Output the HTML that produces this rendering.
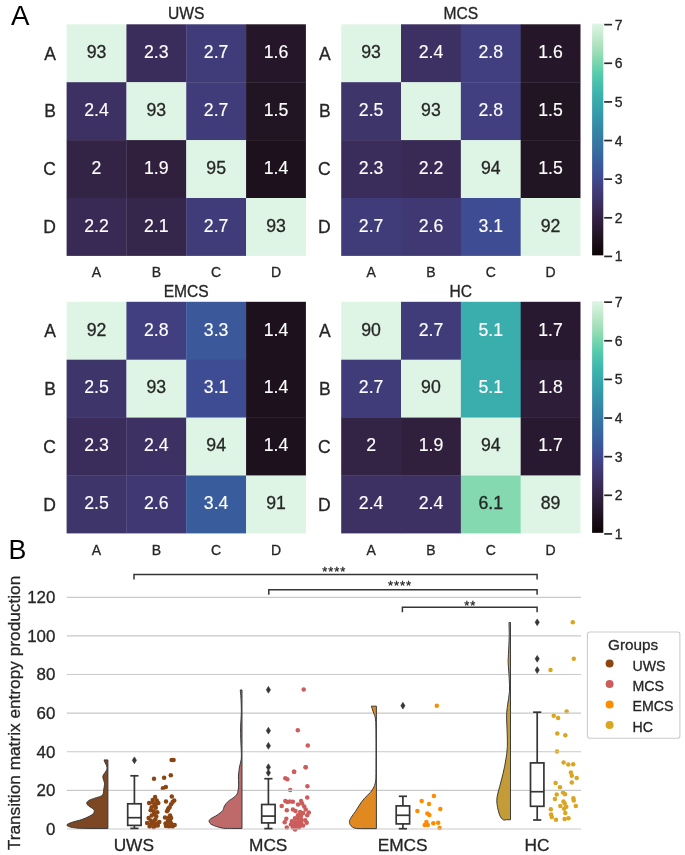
<!DOCTYPE html>
<html><head><meta charset="utf-8"><title>Figure</title>
<style>
html,body{margin:0;padding:0;background:#ffffff;}
svg{display:block;font-family:'Liberation Sans', sans-serif;}
</style></head>
<body>
<svg width="685" height="855" viewBox="0 0 685 855">
<rect x="0" y="0" width="685" height="855" fill="#ffffff"/>
<rect x="66.60" y="24.30" width="60.12" height="58.20" fill="#def5e5"/>
<rect x="126.42" y="24.30" width="60.12" height="58.20" fill="#3b2d5b"/>
<rect x="186.25" y="24.30" width="60.12" height="58.20" fill="#403c79"/>
<rect x="246.08" y="24.30" width="59.83" height="58.20" fill="#251729"/>
<rect x="66.60" y="82.20" width="60.12" height="58.20" fill="#3c3162"/>
<rect x="126.42" y="82.20" width="60.12" height="58.20" fill="#def5e5"/>
<rect x="186.25" y="82.20" width="60.12" height="58.20" fill="#403c79"/>
<rect x="246.08" y="82.20" width="59.83" height="58.20" fill="#211423"/>
<rect x="66.60" y="140.10" width="60.12" height="58.20" fill="#332345"/>
<rect x="126.42" y="140.10" width="60.12" height="58.20" fill="#30203e"/>
<rect x="186.25" y="140.10" width="60.12" height="58.20" fill="#def5e5"/>
<rect x="246.08" y="140.10" width="59.83" height="58.20" fill="#1d111d"/>
<rect x="66.60" y="198.00" width="60.12" height="57.90" fill="#382a54"/>
<rect x="126.42" y="198.00" width="60.12" height="57.90" fill="#35264c"/>
<rect x="186.25" y="198.00" width="60.12" height="57.90" fill="#403c79"/>
<rect x="246.08" y="198.00" width="59.83" height="57.90" fill="#def5e5"/>
<text x="96.51" y="58.09" font-size="17.7" fill="#262626" stroke="#262626" stroke-width="0.3" text-anchor="middle">93</text>
<text x="156.34" y="58.09" font-size="17.7" fill="#ffffff" stroke="#ffffff" stroke-width="0.15" text-anchor="middle">2.3</text>
<text x="216.16" y="58.09" font-size="17.7" fill="#ffffff" stroke="#ffffff" stroke-width="0.15" text-anchor="middle">2.7</text>
<text x="275.99" y="58.09" font-size="17.7" fill="#ffffff" stroke="#ffffff" stroke-width="0.15" text-anchor="middle">1.6</text>
<text x="96.51" y="115.99" font-size="17.7" fill="#ffffff" stroke="#ffffff" stroke-width="0.15" text-anchor="middle">2.4</text>
<text x="156.34" y="115.99" font-size="17.7" fill="#262626" stroke="#262626" stroke-width="0.3" text-anchor="middle">93</text>
<text x="216.16" y="115.99" font-size="17.7" fill="#ffffff" stroke="#ffffff" stroke-width="0.15" text-anchor="middle">2.7</text>
<text x="275.99" y="115.99" font-size="17.7" fill="#ffffff" stroke="#ffffff" stroke-width="0.15" text-anchor="middle">1.5</text>
<text x="96.51" y="173.89" font-size="17.7" fill="#ffffff" stroke="#ffffff" stroke-width="0.15" text-anchor="middle">2</text>
<text x="156.34" y="173.89" font-size="17.7" fill="#ffffff" stroke="#ffffff" stroke-width="0.15" text-anchor="middle">1.9</text>
<text x="216.16" y="173.89" font-size="17.7" fill="#262626" stroke="#262626" stroke-width="0.3" text-anchor="middle">95</text>
<text x="275.99" y="173.89" font-size="17.7" fill="#ffffff" stroke="#ffffff" stroke-width="0.15" text-anchor="middle">1.4</text>
<text x="96.51" y="231.79" font-size="17.7" fill="#ffffff" stroke="#ffffff" stroke-width="0.15" text-anchor="middle">2.2</text>
<text x="156.34" y="231.79" font-size="17.7" fill="#ffffff" stroke="#ffffff" stroke-width="0.15" text-anchor="middle">2.1</text>
<text x="216.16" y="231.79" font-size="17.7" fill="#ffffff" stroke="#ffffff" stroke-width="0.15" text-anchor="middle">2.7</text>
<text x="275.99" y="231.79" font-size="17.7" fill="#262626" stroke="#262626" stroke-width="0.3" text-anchor="middle">93</text>
<text x="186.25" y="19.20" font-size="15.6" fill="#262626" stroke="#262626" stroke-width="0.3" text-anchor="middle">UWS</text>
<text x="56.00" y="59.52" font-size="17.5" fill="#262626" stroke="#262626" stroke-width="0.3" text-anchor="end">A</text>
<text x="96.51" y="277.10" font-size="14" fill="#262626" stroke="#262626" stroke-width="0.3" text-anchor="middle">A</text>
<text x="56.00" y="117.41" font-size="17.5" fill="#262626" stroke="#262626" stroke-width="0.3" text-anchor="end">B</text>
<text x="156.34" y="277.10" font-size="14" fill="#262626" stroke="#262626" stroke-width="0.3" text-anchor="middle">B</text>
<text x="56.00" y="175.31" font-size="17.5" fill="#262626" stroke="#262626" stroke-width="0.3" text-anchor="end">C</text>
<text x="216.16" y="277.10" font-size="14" fill="#262626" stroke="#262626" stroke-width="0.3" text-anchor="middle">C</text>
<text x="56.00" y="233.22" font-size="17.5" fill="#262626" stroke="#262626" stroke-width="0.3" text-anchor="end">D</text>
<text x="275.99" y="277.10" font-size="14" fill="#262626" stroke="#262626" stroke-width="0.3" text-anchor="middle">D</text>
<rect x="341.20" y="24.30" width="60.12" height="58.20" fill="#def5e5"/>
<rect x="401.02" y="24.30" width="60.12" height="58.20" fill="#3c3162"/>
<rect x="460.85" y="24.30" width="60.12" height="58.20" fill="#413f80"/>
<rect x="520.67" y="24.30" width="59.83" height="58.20" fill="#251729"/>
<rect x="341.20" y="82.20" width="60.12" height="58.20" fill="#3e356b"/>
<rect x="401.02" y="82.20" width="60.12" height="58.20" fill="#def5e5"/>
<rect x="460.85" y="82.20" width="60.12" height="58.20" fill="#413f80"/>
<rect x="520.67" y="82.20" width="59.83" height="58.20" fill="#211423"/>
<rect x="341.20" y="140.10" width="60.12" height="58.20" fill="#3b2d5b"/>
<rect x="401.02" y="140.10" width="60.12" height="58.20" fill="#382a54"/>
<rect x="460.85" y="140.10" width="60.12" height="58.20" fill="#def5e5"/>
<rect x="520.67" y="140.10" width="59.83" height="58.20" fill="#211423"/>
<rect x="341.20" y="198.00" width="60.12" height="57.90" fill="#403c79"/>
<rect x="401.02" y="198.00" width="60.12" height="57.90" fill="#403872"/>
<rect x="460.85" y="198.00" width="60.12" height="57.90" fill="#3e4d93"/>
<rect x="520.67" y="198.00" width="59.83" height="57.90" fill="#def5e5"/>
<text x="371.11" y="58.09" font-size="17.7" fill="#262626" stroke="#262626" stroke-width="0.3" text-anchor="middle">93</text>
<text x="430.94" y="58.09" font-size="17.7" fill="#ffffff" stroke="#ffffff" stroke-width="0.15" text-anchor="middle">2.4</text>
<text x="490.76" y="58.09" font-size="17.7" fill="#ffffff" stroke="#ffffff" stroke-width="0.15" text-anchor="middle">2.8</text>
<text x="550.59" y="58.09" font-size="17.7" fill="#ffffff" stroke="#ffffff" stroke-width="0.15" text-anchor="middle">1.6</text>
<text x="371.11" y="115.99" font-size="17.7" fill="#ffffff" stroke="#ffffff" stroke-width="0.15" text-anchor="middle">2.5</text>
<text x="430.94" y="115.99" font-size="17.7" fill="#262626" stroke="#262626" stroke-width="0.3" text-anchor="middle">93</text>
<text x="490.76" y="115.99" font-size="17.7" fill="#ffffff" stroke="#ffffff" stroke-width="0.15" text-anchor="middle">2.8</text>
<text x="550.59" y="115.99" font-size="17.7" fill="#ffffff" stroke="#ffffff" stroke-width="0.15" text-anchor="middle">1.5</text>
<text x="371.11" y="173.89" font-size="17.7" fill="#ffffff" stroke="#ffffff" stroke-width="0.15" text-anchor="middle">2.3</text>
<text x="430.94" y="173.89" font-size="17.7" fill="#ffffff" stroke="#ffffff" stroke-width="0.15" text-anchor="middle">2.2</text>
<text x="490.76" y="173.89" font-size="17.7" fill="#262626" stroke="#262626" stroke-width="0.3" text-anchor="middle">94</text>
<text x="550.59" y="173.89" font-size="17.7" fill="#ffffff" stroke="#ffffff" stroke-width="0.15" text-anchor="middle">1.5</text>
<text x="371.11" y="231.79" font-size="17.7" fill="#ffffff" stroke="#ffffff" stroke-width="0.15" text-anchor="middle">2.7</text>
<text x="430.94" y="231.79" font-size="17.7" fill="#ffffff" stroke="#ffffff" stroke-width="0.15" text-anchor="middle">2.6</text>
<text x="490.76" y="231.79" font-size="17.7" fill="#ffffff" stroke="#ffffff" stroke-width="0.15" text-anchor="middle">3.1</text>
<text x="550.59" y="231.79" font-size="17.7" fill="#262626" stroke="#262626" stroke-width="0.3" text-anchor="middle">92</text>
<text x="460.85" y="19.20" font-size="15.6" fill="#262626" stroke="#262626" stroke-width="0.3" text-anchor="middle">MCS</text>
<text x="330.60" y="59.52" font-size="17.5" fill="#262626" stroke="#262626" stroke-width="0.3" text-anchor="end">A</text>
<text x="371.11" y="277.10" font-size="14" fill="#262626" stroke="#262626" stroke-width="0.3" text-anchor="middle">A</text>
<text x="330.60" y="117.41" font-size="17.5" fill="#262626" stroke="#262626" stroke-width="0.3" text-anchor="end">B</text>
<text x="430.94" y="277.10" font-size="14" fill="#262626" stroke="#262626" stroke-width="0.3" text-anchor="middle">B</text>
<text x="330.60" y="175.31" font-size="17.5" fill="#262626" stroke="#262626" stroke-width="0.3" text-anchor="end">C</text>
<text x="490.76" y="277.10" font-size="14" fill="#262626" stroke="#262626" stroke-width="0.3" text-anchor="middle">C</text>
<text x="330.60" y="233.22" font-size="17.5" fill="#262626" stroke="#262626" stroke-width="0.3" text-anchor="end">D</text>
<text x="550.59" y="277.10" font-size="14" fill="#262626" stroke="#262626" stroke-width="0.3" text-anchor="middle">D</text>
<rect x="66.60" y="301.80" width="60.12" height="58.20" fill="#def5e5"/>
<rect x="126.42" y="301.80" width="60.12" height="58.20" fill="#413f80"/>
<rect x="186.25" y="301.80" width="60.12" height="58.20" fill="#3b589a"/>
<rect x="246.08" y="301.80" width="59.83" height="58.20" fill="#1d111d"/>
<rect x="66.60" y="359.70" width="60.12" height="58.20" fill="#3e356b"/>
<rect x="126.42" y="359.70" width="60.12" height="58.20" fill="#def5e5"/>
<rect x="186.25" y="359.70" width="60.12" height="58.20" fill="#3e4d93"/>
<rect x="246.08" y="359.70" width="59.83" height="58.20" fill="#1d111d"/>
<rect x="66.60" y="417.60" width="60.12" height="58.20" fill="#3b2d5b"/>
<rect x="126.42" y="417.60" width="60.12" height="58.20" fill="#3c3162"/>
<rect x="186.25" y="417.60" width="60.12" height="58.20" fill="#def5e5"/>
<rect x="246.08" y="417.60" width="59.83" height="58.20" fill="#1d111d"/>
<rect x="66.60" y="475.50" width="60.12" height="57.90" fill="#3e356b"/>
<rect x="126.42" y="475.50" width="60.12" height="57.90" fill="#403872"/>
<rect x="186.25" y="475.50" width="60.12" height="57.90" fill="#395d9c"/>
<rect x="246.08" y="475.50" width="59.83" height="57.90" fill="#def5e5"/>
<text x="96.51" y="335.59" font-size="17.7" fill="#262626" stroke="#262626" stroke-width="0.3" text-anchor="middle">92</text>
<text x="156.34" y="335.59" font-size="17.7" fill="#ffffff" stroke="#ffffff" stroke-width="0.15" text-anchor="middle">2.8</text>
<text x="216.16" y="335.59" font-size="17.7" fill="#ffffff" stroke="#ffffff" stroke-width="0.15" text-anchor="middle">3.3</text>
<text x="275.99" y="335.59" font-size="17.7" fill="#ffffff" stroke="#ffffff" stroke-width="0.15" text-anchor="middle">1.4</text>
<text x="96.51" y="393.49" font-size="17.7" fill="#ffffff" stroke="#ffffff" stroke-width="0.15" text-anchor="middle">2.5</text>
<text x="156.34" y="393.49" font-size="17.7" fill="#262626" stroke="#262626" stroke-width="0.3" text-anchor="middle">93</text>
<text x="216.16" y="393.49" font-size="17.7" fill="#ffffff" stroke="#ffffff" stroke-width="0.15" text-anchor="middle">3.1</text>
<text x="275.99" y="393.49" font-size="17.7" fill="#ffffff" stroke="#ffffff" stroke-width="0.15" text-anchor="middle">1.4</text>
<text x="96.51" y="451.39" font-size="17.7" fill="#ffffff" stroke="#ffffff" stroke-width="0.15" text-anchor="middle">2.3</text>
<text x="156.34" y="451.39" font-size="17.7" fill="#ffffff" stroke="#ffffff" stroke-width="0.15" text-anchor="middle">2.4</text>
<text x="216.16" y="451.39" font-size="17.7" fill="#262626" stroke="#262626" stroke-width="0.3" text-anchor="middle">94</text>
<text x="275.99" y="451.39" font-size="17.7" fill="#ffffff" stroke="#ffffff" stroke-width="0.15" text-anchor="middle">1.4</text>
<text x="96.51" y="509.29" font-size="17.7" fill="#ffffff" stroke="#ffffff" stroke-width="0.15" text-anchor="middle">2.5</text>
<text x="156.34" y="509.29" font-size="17.7" fill="#ffffff" stroke="#ffffff" stroke-width="0.15" text-anchor="middle">2.6</text>
<text x="216.16" y="509.29" font-size="17.7" fill="#ffffff" stroke="#ffffff" stroke-width="0.15" text-anchor="middle">3.4</text>
<text x="275.99" y="509.29" font-size="17.7" fill="#262626" stroke="#262626" stroke-width="0.3" text-anchor="middle">91</text>
<text x="186.25" y="296.70" font-size="15.6" fill="#262626" stroke="#262626" stroke-width="0.3" text-anchor="middle">EMCS</text>
<text x="56.00" y="337.01" font-size="17.5" fill="#262626" stroke="#262626" stroke-width="0.3" text-anchor="end">A</text>
<text x="96.51" y="554.60" font-size="14" fill="#262626" stroke="#262626" stroke-width="0.3" text-anchor="middle">A</text>
<text x="56.00" y="394.91" font-size="17.5" fill="#262626" stroke="#262626" stroke-width="0.3" text-anchor="end">B</text>
<text x="156.34" y="554.60" font-size="14" fill="#262626" stroke="#262626" stroke-width="0.3" text-anchor="middle">B</text>
<text x="56.00" y="452.81" font-size="17.5" fill="#262626" stroke="#262626" stroke-width="0.3" text-anchor="end">C</text>
<text x="216.16" y="554.60" font-size="14" fill="#262626" stroke="#262626" stroke-width="0.3" text-anchor="middle">C</text>
<text x="56.00" y="510.72" font-size="17.5" fill="#262626" stroke="#262626" stroke-width="0.3" text-anchor="end">D</text>
<text x="275.99" y="554.60" font-size="14" fill="#262626" stroke="#262626" stroke-width="0.3" text-anchor="middle">D</text>
<rect x="341.20" y="301.80" width="60.12" height="58.20" fill="#def5e5"/>
<rect x="401.02" y="301.80" width="60.12" height="58.20" fill="#403c79"/>
<rect x="460.85" y="301.80" width="60.12" height="58.20" fill="#3aaead"/>
<rect x="520.67" y="301.80" width="59.83" height="58.20" fill="#291930"/>
<rect x="341.20" y="359.70" width="60.12" height="58.20" fill="#403c79"/>
<rect x="401.02" y="359.70" width="60.12" height="58.20" fill="#def5e5"/>
<rect x="460.85" y="359.70" width="60.12" height="58.20" fill="#3aaead"/>
<rect x="520.67" y="359.70" width="59.83" height="58.20" fill="#2d1d38"/>
<rect x="341.20" y="417.60" width="60.12" height="58.20" fill="#332345"/>
<rect x="401.02" y="417.60" width="60.12" height="58.20" fill="#30203e"/>
<rect x="460.85" y="417.60" width="60.12" height="58.20" fill="#def5e5"/>
<rect x="520.67" y="417.60" width="59.83" height="58.20" fill="#291930"/>
<rect x="341.20" y="475.50" width="60.12" height="57.90" fill="#3c3162"/>
<rect x="401.02" y="475.50" width="60.12" height="57.90" fill="#3c3162"/>
<rect x="460.85" y="475.50" width="60.12" height="57.90" fill="#85d9b1"/>
<rect x="520.67" y="475.50" width="59.83" height="57.90" fill="#def5e5"/>
<text x="371.11" y="335.59" font-size="17.7" fill="#262626" stroke="#262626" stroke-width="0.3" text-anchor="middle">90</text>
<text x="430.94" y="335.59" font-size="17.7" fill="#ffffff" stroke="#ffffff" stroke-width="0.15" text-anchor="middle">2.7</text>
<text x="490.76" y="335.59" font-size="17.7" fill="#ffffff" stroke="#ffffff" stroke-width="0.15" text-anchor="middle">5.1</text>
<text x="550.59" y="335.59" font-size="17.7" fill="#ffffff" stroke="#ffffff" stroke-width="0.15" text-anchor="middle">1.7</text>
<text x="371.11" y="393.49" font-size="17.7" fill="#ffffff" stroke="#ffffff" stroke-width="0.15" text-anchor="middle">2.7</text>
<text x="430.94" y="393.49" font-size="17.7" fill="#262626" stroke="#262626" stroke-width="0.3" text-anchor="middle">90</text>
<text x="490.76" y="393.49" font-size="17.7" fill="#ffffff" stroke="#ffffff" stroke-width="0.15" text-anchor="middle">5.1</text>
<text x="550.59" y="393.49" font-size="17.7" fill="#ffffff" stroke="#ffffff" stroke-width="0.15" text-anchor="middle">1.8</text>
<text x="371.11" y="451.39" font-size="17.7" fill="#ffffff" stroke="#ffffff" stroke-width="0.15" text-anchor="middle">2</text>
<text x="430.94" y="451.39" font-size="17.7" fill="#ffffff" stroke="#ffffff" stroke-width="0.15" text-anchor="middle">1.9</text>
<text x="490.76" y="451.39" font-size="17.7" fill="#262626" stroke="#262626" stroke-width="0.3" text-anchor="middle">94</text>
<text x="550.59" y="451.39" font-size="17.7" fill="#ffffff" stroke="#ffffff" stroke-width="0.15" text-anchor="middle">1.7</text>
<text x="371.11" y="509.29" font-size="17.7" fill="#ffffff" stroke="#ffffff" stroke-width="0.15" text-anchor="middle">2.4</text>
<text x="430.94" y="509.29" font-size="17.7" fill="#ffffff" stroke="#ffffff" stroke-width="0.15" text-anchor="middle">2.4</text>
<text x="490.76" y="509.29" font-size="17.7" fill="#262626" stroke="#262626" stroke-width="0.3" text-anchor="middle">6.1</text>
<text x="550.59" y="509.29" font-size="17.7" fill="#262626" stroke="#262626" stroke-width="0.3" text-anchor="middle">89</text>
<text x="460.85" y="296.70" font-size="15.6" fill="#262626" stroke="#262626" stroke-width="0.3" text-anchor="middle">HC</text>
<text x="330.60" y="337.01" font-size="17.5" fill="#262626" stroke="#262626" stroke-width="0.3" text-anchor="end">A</text>
<text x="371.11" y="554.60" font-size="14" fill="#262626" stroke="#262626" stroke-width="0.3" text-anchor="middle">A</text>
<text x="330.60" y="394.91" font-size="17.5" fill="#262626" stroke="#262626" stroke-width="0.3" text-anchor="end">B</text>
<text x="430.94" y="554.60" font-size="14" fill="#262626" stroke="#262626" stroke-width="0.3" text-anchor="middle">B</text>
<text x="330.60" y="452.81" font-size="17.5" fill="#262626" stroke="#262626" stroke-width="0.3" text-anchor="end">C</text>
<text x="490.76" y="554.60" font-size="14" fill="#262626" stroke="#262626" stroke-width="0.3" text-anchor="middle">C</text>
<text x="330.60" y="510.72" font-size="17.5" fill="#262626" stroke="#262626" stroke-width="0.3" text-anchor="end">D</text>
<text x="550.59" y="554.60" font-size="14" fill="#262626" stroke="#262626" stroke-width="0.3" text-anchor="middle">D</text>
<defs><linearGradient id="cb1" x1="0" y1="0" x2="0" y2="1"><stop offset="0.0000" stop-color="#def5e5"/><stop offset="0.0417" stop-color="#caedd4"/><stop offset="0.0833" stop-color="#b2e4c2"/><stop offset="0.1250" stop-color="#99ddb6"/><stop offset="0.1667" stop-color="#79d6ae"/><stop offset="0.2083" stop-color="#5bcdad"/><stop offset="0.2500" stop-color="#4bc2ad"/><stop offset="0.2917" stop-color="#3fb6ad"/><stop offset="0.3333" stop-color="#38aaac"/><stop offset="0.3750" stop-color="#359fab"/><stop offset="0.4167" stop-color="#3492a8"/><stop offset="0.4583" stop-color="#3486a5"/><stop offset="0.5000" stop-color="#357ba3"/><stop offset="0.5417" stop-color="#366fa0"/><stop offset="0.5833" stop-color="#38629d"/><stop offset="0.6250" stop-color="#3b5698"/><stop offset="0.6667" stop-color="#40498e"/><stop offset="0.7083" stop-color="#413e7d"/><stop offset="0.7500" stop-color="#3e356b"/><stop offset="0.7917" stop-color="#3a2c58"/><stop offset="0.8333" stop-color="#332345"/><stop offset="0.8750" stop-color="#2b1c35"/><stop offset="0.9167" stop-color="#211423"/><stop offset="0.9583" stop-color="#160b13"/><stop offset="1.0000" stop-color="#0b0405"/></linearGradient></defs>
<rect x="592.10" y="23.65" width="11.2" height="231.70" fill="url(#cb1)"/>
<line x1="604.20" y1="256.43" x2="612.10" y2="256.43" stroke="#262626" stroke-width="1.7"/>
<text x="614.80" y="261.44" font-size="14" fill="#262626" stroke="#262626" stroke-width="0.3">1</text>
<line x1="604.20" y1="217.80" x2="612.10" y2="217.80" stroke="#262626" stroke-width="1.7"/>
<text x="614.80" y="222.81" font-size="14" fill="#262626" stroke="#262626" stroke-width="0.3">2</text>
<line x1="604.20" y1="179.17" x2="612.10" y2="179.17" stroke="#262626" stroke-width="1.7"/>
<text x="614.80" y="184.18" font-size="14" fill="#262626" stroke="#262626" stroke-width="0.3">3</text>
<line x1="604.20" y1="140.54" x2="612.10" y2="140.54" stroke="#262626" stroke-width="1.7"/>
<text x="614.80" y="145.55" font-size="14" fill="#262626" stroke="#262626" stroke-width="0.3">4</text>
<line x1="604.20" y1="101.91" x2="612.10" y2="101.91" stroke="#262626" stroke-width="1.7"/>
<text x="614.80" y="106.92" font-size="14" fill="#262626" stroke="#262626" stroke-width="0.3">5</text>
<line x1="604.20" y1="63.28" x2="612.10" y2="63.28" stroke="#262626" stroke-width="1.7"/>
<text x="614.80" y="68.29" font-size="14" fill="#262626" stroke="#262626" stroke-width="0.3">6</text>
<line x1="604.20" y1="24.65" x2="612.10" y2="24.65" stroke="#262626" stroke-width="1.7"/>
<text x="614.80" y="29.66" font-size="14" fill="#262626" stroke="#262626" stroke-width="0.3">7</text>
<defs><linearGradient id="cb2" x1="0" y1="0" x2="0" y2="1"><stop offset="0.0000" stop-color="#def5e5"/><stop offset="0.0417" stop-color="#caedd4"/><stop offset="0.0833" stop-color="#b2e4c2"/><stop offset="0.1250" stop-color="#99ddb6"/><stop offset="0.1667" stop-color="#79d6ae"/><stop offset="0.2083" stop-color="#5bcdad"/><stop offset="0.2500" stop-color="#4bc2ad"/><stop offset="0.2917" stop-color="#3fb6ad"/><stop offset="0.3333" stop-color="#38aaac"/><stop offset="0.3750" stop-color="#359fab"/><stop offset="0.4167" stop-color="#3492a8"/><stop offset="0.4583" stop-color="#3486a5"/><stop offset="0.5000" stop-color="#357ba3"/><stop offset="0.5417" stop-color="#366fa0"/><stop offset="0.5833" stop-color="#38629d"/><stop offset="0.6250" stop-color="#3b5698"/><stop offset="0.6667" stop-color="#40498e"/><stop offset="0.7083" stop-color="#413e7d"/><stop offset="0.7500" stop-color="#3e356b"/><stop offset="0.7917" stop-color="#3a2c58"/><stop offset="0.8333" stop-color="#332345"/><stop offset="0.8750" stop-color="#2b1c35"/><stop offset="0.9167" stop-color="#211423"/><stop offset="0.9583" stop-color="#160b13"/><stop offset="1.0000" stop-color="#0b0405"/></linearGradient></defs>
<rect x="592.10" y="301.15" width="11.2" height="231.70" fill="url(#cb2)"/>
<line x1="604.20" y1="533.93" x2="612.10" y2="533.93" stroke="#262626" stroke-width="1.7"/>
<text x="614.80" y="538.94" font-size="14" fill="#262626" stroke="#262626" stroke-width="0.3">1</text>
<line x1="604.20" y1="495.30" x2="612.10" y2="495.30" stroke="#262626" stroke-width="1.7"/>
<text x="614.80" y="500.31" font-size="14" fill="#262626" stroke="#262626" stroke-width="0.3">2</text>
<line x1="604.20" y1="456.67" x2="612.10" y2="456.67" stroke="#262626" stroke-width="1.7"/>
<text x="614.80" y="461.68" font-size="14" fill="#262626" stroke="#262626" stroke-width="0.3">3</text>
<line x1="604.20" y1="418.04" x2="612.10" y2="418.04" stroke="#262626" stroke-width="1.7"/>
<text x="614.80" y="423.05" font-size="14" fill="#262626" stroke="#262626" stroke-width="0.3">4</text>
<line x1="604.20" y1="379.41" x2="612.10" y2="379.41" stroke="#262626" stroke-width="1.7"/>
<text x="614.80" y="384.42" font-size="14" fill="#262626" stroke="#262626" stroke-width="0.3">5</text>
<line x1="604.20" y1="340.78" x2="612.10" y2="340.78" stroke="#262626" stroke-width="1.7"/>
<text x="614.80" y="345.79" font-size="14" fill="#262626" stroke="#262626" stroke-width="0.3">6</text>
<line x1="604.20" y1="302.15" x2="612.10" y2="302.15" stroke="#262626" stroke-width="1.7"/>
<text x="614.80" y="307.16" font-size="14" fill="#262626" stroke="#262626" stroke-width="0.3">7</text>
<text x="10.9" y="24.7" font-size="27.7" fill="#000">A</text>
<text x="8.4" y="559.4" font-size="26.8" fill="#000">B</text>
<circle cx="171.6" cy="759.9" r="2.25" fill="#8b4513"/>
<circle cx="173.6" cy="759.9" r="2.25" fill="#8b4513"/>
<circle cx="170.8" cy="775.3" r="2.25" fill="#8b4513"/>
<circle cx="154.0" cy="778.8" r="2.25" fill="#8b4513"/>
<circle cx="164.1" cy="777.8" r="2.25" fill="#8b4513"/>
<circle cx="162.9" cy="788.3" r="2.25" fill="#8b4513"/>
<circle cx="165.8" cy="787.0" r="2.25" fill="#8b4513"/>
<circle cx="155.1" cy="797.0" r="2.25" fill="#8b4513"/>
<circle cx="171.8" cy="796.5" r="2.25" fill="#8b4513"/>
<circle cx="152.7" cy="800.1" r="2.25" fill="#8b4513"/>
<circle cx="156.8" cy="800.6" r="2.25" fill="#8b4513"/>
<circle cx="149.1" cy="803.1" r="2.25" fill="#8b4513"/>
<circle cx="158.3" cy="803.1" r="2.25" fill="#8b4513"/>
<circle cx="154.7" cy="805.2" r="2.25" fill="#8b4513"/>
<circle cx="155.8" cy="807.7" r="2.25" fill="#8b4513"/>
<circle cx="150.7" cy="810.3" r="2.25" fill="#8b4513"/>
<circle cx="157.3" cy="812.3" r="2.25" fill="#8b4513"/>
<circle cx="154.2" cy="813.9" r="2.25" fill="#8b4513"/>
<circle cx="151.7" cy="815.4" r="2.25" fill="#8b4513"/>
<circle cx="148.6" cy="818.0" r="2.25" fill="#8b4513"/>
<circle cx="155.3" cy="819.5" r="2.25" fill="#8b4513"/>
<circle cx="153.7" cy="821.5" r="2.25" fill="#8b4513"/>
<circle cx="147.1" cy="823.1" r="2.25" fill="#8b4513"/>
<circle cx="159.3" cy="822.0" r="2.25" fill="#8b4513"/>
<circle cx="150.7" cy="824.6" r="2.25" fill="#8b4513"/>
<circle cx="155.8" cy="825.1" r="2.25" fill="#8b4513"/>
<circle cx="149.6" cy="826.6" r="2.25" fill="#8b4513"/>
<circle cx="153.7" cy="827.2" r="2.25" fill="#8b4513"/>
<circle cx="157.8" cy="825.6" r="2.25" fill="#8b4513"/>
<circle cx="166.0" cy="801.6" r="2.25" fill="#8b4513"/>
<circle cx="174.2" cy="800.6" r="2.25" fill="#8b4513"/>
<circle cx="171.1" cy="804.2" r="2.25" fill="#8b4513"/>
<circle cx="169.6" cy="807.2" r="2.25" fill="#8b4513"/>
<circle cx="168.0" cy="809.8" r="2.25" fill="#8b4513"/>
<circle cx="167.0" cy="811.3" r="2.25" fill="#8b4513"/>
<circle cx="170.1" cy="815.4" r="2.25" fill="#8b4513"/>
<circle cx="165.0" cy="817.4" r="2.25" fill="#8b4513"/>
<circle cx="171.1" cy="818.0" r="2.25" fill="#8b4513"/>
<circle cx="168.0" cy="820.5" r="2.25" fill="#8b4513"/>
<circle cx="170.1" cy="821.5" r="2.25" fill="#8b4513"/>
<circle cx="165.5" cy="823.6" r="2.25" fill="#8b4513"/>
<circle cx="171.1" cy="823.6" r="2.25" fill="#8b4513"/>
<circle cx="174.7" cy="825.1" r="2.25" fill="#8b4513"/>
<circle cx="166.0" cy="826.1" r="2.25" fill="#8b4513"/>
<circle cx="169.0" cy="826.6" r="2.25" fill="#8b4513"/>
<circle cx="172.6" cy="826.6" r="2.25" fill="#8b4513"/>
<circle cx="152.7" cy="802.6" r="2.25" fill="#8b4513"/>
<circle cx="155.8" cy="804.2" r="2.25" fill="#8b4513"/>
<circle cx="151.7" cy="807.2" r="2.25" fill="#8b4513"/>
<circle cx="153.7" cy="811.3" r="2.25" fill="#8b4513"/>
<circle cx="156.3" cy="816.4" r="2.25" fill="#8b4513"/>
<circle cx="150.7" cy="820.5" r="2.25" fill="#8b4513"/>
<circle cx="152.2" cy="823.1" r="2.25" fill="#8b4513"/>
<circle cx="157.3" cy="823.6" r="2.25" fill="#8b4513"/>
<circle cx="154.7" cy="826.1" r="2.25" fill="#8b4513"/>
<circle cx="172.6" cy="802.1" r="2.25" fill="#8b4513"/>
<circle cx="168.5" cy="808.2" r="2.25" fill="#8b4513"/>
<circle cx="169.0" cy="817.4" r="2.25" fill="#8b4513"/>
<circle cx="167.5" cy="823.1" r="2.25" fill="#8b4513"/>
<circle cx="173.1" cy="825.1" r="2.25" fill="#8b4513"/>
<circle cx="305.7" cy="767.2" r="2.25" fill="#cd5c5c"/>
<circle cx="294.1" cy="771.8" r="2.25" fill="#cd5c5c"/>
<circle cx="285.3" cy="778.2" r="2.25" fill="#cd5c5c"/>
<circle cx="287.3" cy="779.2" r="2.25" fill="#cd5c5c"/>
<circle cx="307.4" cy="786.2" r="2.25" fill="#cd5c5c"/>
<circle cx="290.2" cy="790.1" r="2.25" fill="#cd5c5c"/>
<circle cx="307.2" cy="797.4" r="2.25" fill="#cd5c5c"/>
<circle cx="285.3" cy="800.9" r="2.25" fill="#cd5c5c"/>
<circle cx="287.3" cy="801.9" r="2.25" fill="#cd5c5c"/>
<circle cx="289.9" cy="801.4" r="2.25" fill="#cd5c5c"/>
<circle cx="292.9" cy="801.7" r="2.25" fill="#cd5c5c"/>
<circle cx="301.1" cy="800.9" r="2.25" fill="#cd5c5c"/>
<circle cx="281.7" cy="806.0" r="2.25" fill="#cd5c5c"/>
<circle cx="298.0" cy="804.5" r="2.25" fill="#cd5c5c"/>
<circle cx="302.1" cy="803.4" r="2.25" fill="#cd5c5c"/>
<circle cx="304.2" cy="806.5" r="2.25" fill="#cd5c5c"/>
<circle cx="286.8" cy="810.3" r="2.25" fill="#cd5c5c"/>
<circle cx="292.9" cy="809.6" r="2.25" fill="#cd5c5c"/>
<circle cx="295.5" cy="811.1" r="2.25" fill="#cd5c5c"/>
<circle cx="305.7" cy="809.6" r="2.25" fill="#cd5c5c"/>
<circle cx="308.8" cy="812.6" r="2.25" fill="#cd5c5c"/>
<circle cx="300.1" cy="812.1" r="2.25" fill="#cd5c5c"/>
<circle cx="303.1" cy="813.1" r="2.25" fill="#cd5c5c"/>
<circle cx="307.2" cy="815.2" r="2.25" fill="#cd5c5c"/>
<circle cx="298.0" cy="815.2" r="2.25" fill="#cd5c5c"/>
<circle cx="301.1" cy="815.7" r="2.25" fill="#cd5c5c"/>
<circle cx="286.3" cy="818.8" r="2.25" fill="#cd5c5c"/>
<circle cx="284.7" cy="822.3" r="2.25" fill="#cd5c5c"/>
<circle cx="295.0" cy="818.2" r="2.25" fill="#cd5c5c"/>
<circle cx="298.0" cy="818.8" r="2.25" fill="#cd5c5c"/>
<circle cx="301.1" cy="819.3" r="2.25" fill="#cd5c5c"/>
<circle cx="305.2" cy="820.3" r="2.25" fill="#cd5c5c"/>
<circle cx="306.7" cy="822.8" r="2.25" fill="#cd5c5c"/>
<circle cx="291.9" cy="821.3" r="2.25" fill="#cd5c5c"/>
<circle cx="295.0" cy="822.3" r="2.25" fill="#cd5c5c"/>
<circle cx="298.0" cy="822.3" r="2.25" fill="#cd5c5c"/>
<circle cx="301.1" cy="822.8" r="2.25" fill="#cd5c5c"/>
<circle cx="290.9" cy="824.4" r="2.25" fill="#cd5c5c"/>
<circle cx="293.9" cy="825.4" r="2.25" fill="#cd5c5c"/>
<circle cx="297.0" cy="825.4" r="2.25" fill="#cd5c5c"/>
<circle cx="300.1" cy="825.4" r="2.25" fill="#cd5c5c"/>
<circle cx="303.1" cy="825.4" r="2.25" fill="#cd5c5c"/>
<circle cx="286.8" cy="827.4" r="2.25" fill="#cd5c5c"/>
<circle cx="292.9" cy="827.4" r="2.25" fill="#cd5c5c"/>
<circle cx="296.0" cy="828.0" r="2.25" fill="#cd5c5c"/>
<circle cx="299.0" cy="827.4" r="2.25" fill="#cd5c5c"/>
<circle cx="295.0" cy="829.5" r="2.25" fill="#cd5c5c"/>
<circle cx="303.7" cy="689.6" r="2.25" fill="#cd5c5c"/>
<circle cx="297.8" cy="730.3" r="2.25" fill="#cd5c5c"/>
<circle cx="307.8" cy="745.4" r="2.25" fill="#cd5c5c"/>
<circle cx="305.6" cy="767.3" r="2.25" fill="#cd5c5c"/>
<circle cx="294.1" cy="771.8" r="2.25" fill="#cd5c5c"/>
<circle cx="436.8" cy="705.7" r="2.25" fill="#ff8c00"/>
<circle cx="433.9" cy="795.9" r="2.25" fill="#ff8c00"/>
<circle cx="421.7" cy="801.0" r="2.25" fill="#ff8c00"/>
<circle cx="429.0" cy="804.0" r="2.25" fill="#ff8c00"/>
<circle cx="440.3" cy="808.9" r="2.25" fill="#ff8c00"/>
<circle cx="417.4" cy="811.0" r="2.25" fill="#ff8c00"/>
<circle cx="427.4" cy="813.6" r="2.25" fill="#ff8c00"/>
<circle cx="429.4" cy="815.1" r="2.25" fill="#ff8c00"/>
<circle cx="426.4" cy="822.0" r="2.25" fill="#ff8c00"/>
<circle cx="424.7" cy="825.1" r="2.25" fill="#ff8c00"/>
<circle cx="427.8" cy="824.9" r="2.25" fill="#ff8c00"/>
<circle cx="433.3" cy="823.3" r="2.25" fill="#ff8c00"/>
<circle cx="438.2" cy="822.8" r="2.25" fill="#ff8c00"/>
<circle cx="439.6" cy="828.0" r="2.25" fill="#ff8c00"/>
<circle cx="566.6" cy="711.4" r="2.25" fill="#daa520"/>
<circle cx="553.7" cy="715.8" r="2.25" fill="#daa520"/>
<circle cx="558.1" cy="717.9" r="2.25" fill="#daa520"/>
<circle cx="557.3" cy="733.5" r="2.25" fill="#daa520"/>
<circle cx="565.3" cy="735.2" r="2.25" fill="#daa520"/>
<circle cx="557.0" cy="751.4" r="2.25" fill="#daa520"/>
<circle cx="563.6" cy="762.4" r="2.25" fill="#daa520"/>
<circle cx="568.3" cy="764.5" r="2.25" fill="#daa520"/>
<circle cx="573.2" cy="764.3" r="2.25" fill="#daa520"/>
<circle cx="570.9" cy="772.4" r="2.25" fill="#daa520"/>
<circle cx="571.8" cy="775.8" r="2.25" fill="#daa520"/>
<circle cx="576.7" cy="778.1" r="2.25" fill="#daa520"/>
<circle cx="571.8" cy="782.5" r="2.25" fill="#daa520"/>
<circle cx="555.6" cy="783.0" r="2.25" fill="#daa520"/>
<circle cx="560.0" cy="787.2" r="2.25" fill="#daa520"/>
<circle cx="563.0" cy="792.4" r="2.25" fill="#daa520"/>
<circle cx="565.0" cy="794.3" r="2.25" fill="#daa520"/>
<circle cx="556.7" cy="794.5" r="2.25" fill="#daa520"/>
<circle cx="554.9" cy="798.9" r="2.25" fill="#daa520"/>
<circle cx="573.4" cy="798.3" r="2.25" fill="#daa520"/>
<circle cx="573.7" cy="800.5" r="2.25" fill="#daa520"/>
<circle cx="563.5" cy="801.4" r="2.25" fill="#daa520"/>
<circle cx="564.7" cy="803.5" r="2.25" fill="#daa520"/>
<circle cx="560.3" cy="805.9" r="2.25" fill="#daa520"/>
<circle cx="566.3" cy="806.7" r="2.25" fill="#daa520"/>
<circle cx="575.8" cy="805.9" r="2.25" fill="#daa520"/>
<circle cx="564.1" cy="808.7" r="2.25" fill="#daa520"/>
<circle cx="550.8" cy="809.3" r="2.25" fill="#daa520"/>
<circle cx="565.3" cy="813.1" r="2.25" fill="#daa520"/>
<circle cx="551.1" cy="814.6" r="2.25" fill="#daa520"/>
<circle cx="551.8" cy="816.9" r="2.25" fill="#daa520"/>
<circle cx="556.0" cy="819.8" r="2.25" fill="#daa520"/>
<circle cx="564.6" cy="819.0" r="2.25" fill="#daa520"/>
<circle cx="568.5" cy="818.3" r="2.25" fill="#daa520"/>
<circle cx="572.8" cy="622.2" r="2.25" fill="#daa520"/>
<circle cx="573.8" cy="658.8" r="2.25" fill="#daa520"/>
<circle cx="550.5" cy="670.1" r="2.25" fill="#daa520"/>
<line x1="66.8" y1="829.00" x2="581.1" y2="829.00" stroke="#c9c9c9" stroke-width="1.2"/>
<text x="55.4" y="834.75" font-size="16.9" fill="#262626" stroke="#262626" stroke-width="0.3" text-anchor="end">0</text>
<line x1="66.8" y1="790.38" x2="581.1" y2="790.38" stroke="#c9c9c9" stroke-width="1.2"/>
<text x="55.4" y="796.13" font-size="16.9" fill="#262626" stroke="#262626" stroke-width="0.3" text-anchor="end">20</text>
<line x1="66.8" y1="751.76" x2="581.1" y2="751.76" stroke="#c9c9c9" stroke-width="1.2"/>
<text x="55.4" y="757.51" font-size="16.9" fill="#262626" stroke="#262626" stroke-width="0.3" text-anchor="end">40</text>
<line x1="66.8" y1="713.14" x2="581.1" y2="713.14" stroke="#c9c9c9" stroke-width="1.2"/>
<text x="55.4" y="718.89" font-size="16.9" fill="#262626" stroke="#262626" stroke-width="0.3" text-anchor="end">60</text>
<line x1="66.8" y1="674.52" x2="581.1" y2="674.52" stroke="#c9c9c9" stroke-width="1.2"/>
<text x="55.4" y="680.27" font-size="16.9" fill="#262626" stroke="#262626" stroke-width="0.3" text-anchor="end">80</text>
<line x1="66.8" y1="635.90" x2="581.1" y2="635.90" stroke="#c9c9c9" stroke-width="1.2"/>
<text x="55.4" y="641.65" font-size="16.9" fill="#262626" stroke="#262626" stroke-width="0.3" text-anchor="end">100</text>
<line x1="66.8" y1="597.28" x2="581.1" y2="597.28" stroke="#c9c9c9" stroke-width="1.2"/>
<text x="55.4" y="603.03" font-size="16.9" fill="#262626" stroke="#262626" stroke-width="0.3" text-anchor="end">120</text>
<text transform="translate(19.6,713.0) rotate(-90)" font-size="17.25" fill="#262626" stroke="#262626" stroke-width="0.3" text-anchor="middle">Transition matrix entropy production</text>
<path d="M104.01,759.93 C104.20,760.43 104.75,761.92 105.20,762.91 C105.64,763.91 106.41,764.82 106.69,765.89 C106.97,766.97 107.13,768.29 106.89,769.37 C106.64,770.45 105.81,771.36 105.20,772.35 C104.58,773.34 103.59,774.42 103.21,775.33 C102.83,776.24 102.75,776.74 102.91,777.81 C103.08,778.89 103.94,780.63 104.20,781.79 C104.47,782.95 104.58,783.44 104.50,784.77 C104.42,786.09 103.92,788.24 103.71,789.73 C103.49,791.22 103.71,792.63 103.21,793.71 C102.71,794.78 102.13,795.45 100.73,796.19 C99.32,796.94 96.67,797.51 94.77,798.18 C92.86,798.84 90.60,799.50 89.30,800.16 C88.01,800.83 87.43,801.57 87.02,802.15 C86.61,802.73 86.52,802.98 86.82,803.64 C87.12,804.30 87.81,805.30 88.81,806.12 C89.80,806.95 91.87,807.86 92.78,808.61 C93.69,809.35 94.19,809.77 94.27,810.59 C94.35,811.42 94.19,812.58 93.28,813.57 C92.37,814.57 90.71,815.56 88.81,816.55 C86.90,817.55 84.50,818.62 81.85,819.53 C79.20,820.44 75.23,821.27 72.91,822.02 C70.60,822.76 68.94,823.51 67.95,824.00 C66.95,824.50 66.87,824.58 66.95,825.00 C67.04,825.41 67.28,826.04 68.44,826.49 C69.60,826.93 72.00,827.38 73.91,827.68 C75.81,827.98 77.22,828.14 79.87,828.28 C82.52,828.41 88.14,828.44 89.80,828.47 L107.90,828.47 L107.90,759.93 Z" fill="#7c4722" stroke="#353535" stroke-width="0.95" stroke-linejoin="round"/>
<path d="M240.24,689.97 C240.36,691.33 240.78,694.35 240.96,698.13 C241.15,701.90 241.39,707.79 241.33,712.63 C241.27,717.46 240.69,722.60 240.60,727.13 C240.51,731.66 240.66,735.59 240.78,739.82 C240.90,744.04 241.27,749.18 241.33,752.50 C241.39,755.83 241.45,757.34 241.15,759.75 C240.84,762.17 239.97,764.28 239.51,767.00 C239.06,769.72 238.58,773.05 238.43,776.07 C238.28,779.09 238.73,782.41 238.61,785.13 C238.49,787.85 238.40,790.42 237.70,792.38 C237.01,794.34 236.04,795.40 234.44,796.91 C232.84,798.42 229.76,799.93 228.09,801.44 C226.43,802.95 225.38,804.46 224.47,805.97 C223.56,807.48 223.87,809.00 222.66,810.51 C221.45,812.02 219.18,813.68 217.22,815.04 C215.26,816.40 212.23,817.67 210.88,818.66 C209.52,819.66 209.06,820.11 209.06,821.02 C209.06,821.92 209.67,823.19 210.88,824.10 C212.08,825.01 214.20,825.76 216.31,826.46 C218.43,827.15 221.15,827.94 223.56,828.27 C225.98,828.60 229.61,828.42 230.81,828.45 L242.00,828.45 L242.00,689.97 Z" fill="#bf6a6a" stroke="#353535" stroke-width="0.95" stroke-linejoin="round"/>
<path d="M371.39,706.15 C371.67,707.02 372.49,709.84 373.03,711.39 C373.58,712.95 374.23,713.85 374.67,715.49 C375.11,717.13 375.44,717.81 375.66,721.23 C375.87,724.64 375.93,728.06 375.98,735.98 C376.04,743.91 376.04,761.39 375.98,768.77 C375.93,776.15 375.98,777.24 375.66,780.25 C375.33,783.25 374.92,784.75 374.02,786.80 C373.11,788.85 371.83,790.63 370.25,792.54 C368.66,794.45 366.28,796.23 364.51,798.28 C362.73,800.33 361.09,802.65 359.59,804.84 C358.09,807.02 356.86,809.34 355.49,811.39 C354.13,813.44 352.40,815.49 351.39,817.13 C350.38,818.77 349.56,819.86 349.43,821.23 C349.29,822.60 349.70,824.18 350.57,825.33 C351.45,826.48 352.90,827.57 354.67,828.11 C356.45,828.66 360.14,828.52 361.23,828.61 L376.40,828.61 L376.40,706.15 Z" fill="#df8920" stroke="#353535" stroke-width="0.95" stroke-linejoin="round"/>
<path d="M508.95,622.50 C508.99,624.80 509.30,630.94 509.21,636.32 C509.12,641.69 508.60,650.35 508.42,654.74 C508.25,659.12 508.03,658.68 508.16,662.63 C508.29,666.58 508.99,673.60 509.21,678.42 C509.43,683.25 509.74,687.19 509.47,691.58 C509.21,695.96 508.11,700.79 507.63,704.74 C507.15,708.68 506.67,710.88 506.58,715.26 C506.49,719.65 506.97,725.79 507.11,731.05 C507.24,736.32 507.59,742.02 507.37,746.84 C507.15,751.67 506.49,755.61 505.79,760.00 C505.09,764.39 504.17,768.77 503.16,773.16 C502.15,777.54 500.75,782.37 499.74,786.32 C498.73,790.26 497.54,793.77 497.11,796.84 C496.67,799.91 496.67,801.67 497.11,804.74 C497.54,807.81 498.73,812.76 499.74,815.26 C500.75,817.76 502.06,818.99 503.16,819.74 C504.25,820.48 505.79,819.74 506.32,819.74 L510.50,819.74 L510.50,622.50 Z" fill="#c39b37" stroke="#353535" stroke-width="0.95" stroke-linejoin="round"/>
<line x1="134.4" y1="775.80" x2="134.4" y2="803.80" stroke="#353535" stroke-width="1.7"/>
<line x1="134.4" y1="825.40" x2="134.4" y2="828.40" stroke="#353535" stroke-width="1.7"/>
<line x1="130.3" y1="775.80" x2="138.5" y2="775.80" stroke="#353535" stroke-width="1.7"/>
<line x1="130.3" y1="828.40" x2="138.5" y2="828.40" stroke="#353535" stroke-width="1.7"/>
<rect x="127.70" y="803.80" width="13.40" height="21.60" fill="#ffffff" stroke="#353535" stroke-width="1.7"/>
<line x1="127.7" y1="817.70" x2="141.1" y2="817.70" stroke="#353535" stroke-width="1.7"/>
<path d="M134.4,756.90 L136.5,760.30 L134.4,763.70 L132.3,760.30 Z" fill="#353535" stroke="#353535" stroke-width="0.6"/>
<line x1="268.4" y1="778.70" x2="268.4" y2="804.50" stroke="#353535" stroke-width="1.7"/>
<line x1="268.4" y1="822.90" x2="268.4" y2="828.60" stroke="#353535" stroke-width="1.7"/>
<line x1="264.29999999999995" y1="778.70" x2="272.5" y2="778.70" stroke="#353535" stroke-width="1.7"/>
<line x1="264.29999999999995" y1="828.60" x2="272.5" y2="828.60" stroke="#353535" stroke-width="1.7"/>
<rect x="261.70" y="804.50" width="13.40" height="18.40" fill="#ffffff" stroke="#353535" stroke-width="1.7"/>
<line x1="261.7" y1="816.10" x2="275.09999999999997" y2="816.10" stroke="#353535" stroke-width="1.7"/>
<path d="M268.4,686.40 L270.5,689.80 L268.4,693.20 L266.29999999999995,689.80 Z" fill="#353535" stroke="#353535" stroke-width="0.6"/>
<path d="M268.4,727.30 L270.5,730.70 L268.4,734.10 L266.29999999999995,730.70 Z" fill="#353535" stroke="#353535" stroke-width="0.6"/>
<path d="M268.4,742.40 L270.5,745.80 L268.4,749.20 L266.29999999999995,745.80 Z" fill="#353535" stroke="#353535" stroke-width="0.6"/>
<path d="M268.4,763.80 L270.5,767.20 L268.4,770.60 L266.29999999999995,767.20 Z" fill="#353535" stroke="#353535" stroke-width="0.6"/>
<path d="M268.4,769.40 L270.5,772.80 L268.4,776.20 L266.29999999999995,772.80 Z" fill="#353535" stroke="#353535" stroke-width="0.6"/>
<line x1="402.9" y1="796.30" x2="402.9" y2="805.90" stroke="#353535" stroke-width="1.7"/>
<line x1="402.9" y1="823.90" x2="402.9" y2="828.70" stroke="#353535" stroke-width="1.7"/>
<line x1="398.79999999999995" y1="796.30" x2="407.0" y2="796.30" stroke="#353535" stroke-width="1.7"/>
<line x1="398.79999999999995" y1="828.70" x2="407.0" y2="828.70" stroke="#353535" stroke-width="1.7"/>
<rect x="396.20" y="805.90" width="13.40" height="18.00" fill="#ffffff" stroke="#353535" stroke-width="1.7"/>
<line x1="396.2" y1="815.30" x2="409.59999999999997" y2="815.30" stroke="#353535" stroke-width="1.7"/>
<path d="M402.9,702.30 L405.0,705.70 L402.9,709.10 L400.79999999999995,705.70 Z" fill="#353535" stroke="#353535" stroke-width="0.6"/>
<line x1="537.2" y1="712.20" x2="537.2" y2="762.90" stroke="#353535" stroke-width="1.7"/>
<line x1="537.2" y1="806.30" x2="537.2" y2="820.00" stroke="#353535" stroke-width="1.7"/>
<line x1="533.1" y1="712.20" x2="541.3000000000001" y2="712.20" stroke="#353535" stroke-width="1.7"/>
<line x1="533.1" y1="820.00" x2="541.3000000000001" y2="820.00" stroke="#353535" stroke-width="1.7"/>
<rect x="530.50" y="762.90" width="13.40" height="43.40" fill="#ffffff" stroke="#353535" stroke-width="1.7"/>
<line x1="530.5" y1="791.70" x2="543.9000000000001" y2="791.70" stroke="#353535" stroke-width="1.7"/>
<path d="M537.2,618.90 L539.3000000000001,622.30 L537.2,625.70 L535.1,622.30 Z" fill="#353535" stroke="#353535" stroke-width="0.6"/>
<path d="M537.2,655.40 L539.3000000000001,658.80 L537.2,662.20 L535.1,658.80 Z" fill="#353535" stroke="#353535" stroke-width="0.6"/>
<path d="M537.2,666.70 L539.3000000000001,670.10 L537.2,673.50 L535.1,670.10 Z" fill="#353535" stroke="#353535" stroke-width="0.6"/>
<text x="133.8" y="851.3" font-size="17.3" fill="#262626" stroke="#262626" stroke-width="0.3" text-anchor="middle">UWS</text>
<text x="268.2" y="851.3" font-size="17.3" fill="#262626" stroke="#262626" stroke-width="0.3" text-anchor="middle">MCS</text>
<text x="402.6" y="851.3" font-size="17.3" fill="#262626" stroke="#262626" stroke-width="0.3" text-anchor="middle">EMCS</text>
<text x="537.0" y="851.3" font-size="17.3" fill="#262626" stroke="#262626" stroke-width="0.3" text-anchor="middle">HC</text>
<path d="M134.0,579.4 L134.0,574.4 L537.1,574.4 L537.1,579.4" fill="none" stroke="#353535" stroke-width="1.5"/>
<text x="334.3" y="575.8" font-size="13" letter-spacing="0.95" fill="#262626" stroke="#262626" stroke-width="0.3" text-anchor="middle">****</text>
<path d="M268.8,594.7 L268.8,589.8 L537.1,589.8 L537.1,594.7" fill="none" stroke="#353535" stroke-width="1.5"/>
<text x="399.9" y="589.5" font-size="13" letter-spacing="0.95" fill="#262626" stroke="#262626" stroke-width="0.3" text-anchor="middle">****</text>
<path d="M402.4,612.3 L402.4,607.3 L537.1,607.3 L537.1,612.3" fill="none" stroke="#353535" stroke-width="1.5"/>
<text x="470.3" y="609.8" font-size="13" letter-spacing="0.95" fill="#262626" stroke="#262626" stroke-width="0.3" text-anchor="middle">**</text>
<rect x="587.4" y="632" width="92.5" height="106.3" rx="2.6" fill="#ffffff" stroke="#cccccc" stroke-width="1.1"/>
<text x="633.2" y="650.3" font-size="15.3" fill="#262626" stroke="#262626" stroke-width="0.3" text-anchor="middle">Groups</text>
<circle cx="609.6" cy="663.40" r="4.0" fill="#8b4513"/>
<text x="632.5" y="670.70" font-size="14.15" fill="#262626" stroke="#262626" stroke-width="0.3">UWS</text>
<circle cx="609.6" cy="683.90" r="4.0" fill="#cd5c5c"/>
<text x="632.5" y="691.00" font-size="14.15" fill="#262626" stroke="#262626" stroke-width="0.3">MCS</text>
<circle cx="609.6" cy="704.40" r="4.0" fill="#ff8c00"/>
<text x="632.5" y="711.30" font-size="14.15" fill="#262626" stroke="#262626" stroke-width="0.3">EMCS</text>
<circle cx="609.6" cy="724.90" r="4.0" fill="#daa520"/>
<text x="632.5" y="731.60" font-size="14.15" fill="#262626" stroke="#262626" stroke-width="0.3">HC</text>
</svg>
</body></html>
